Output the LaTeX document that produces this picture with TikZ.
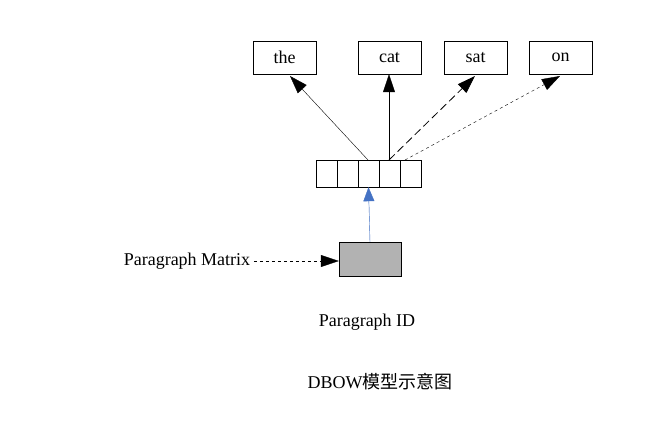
\documentclass[tikz,border=0pt]{standalone}
\usepackage{fontspec}
\setmainfont{Liberation Serif}
\newfontfamily\cjk{Noto Sans CJK SC}
\usetikzlibrary{arrows.meta}
\begin{document}
\begin{tikzpicture}[x=1pt,y=-1pt,
  word/.style={draw,minimum width=63pt,minimum height=33pt,inner sep=0pt,font=\fontsize{18}{20}\selectfont},
  cell/.style={draw,minimum width=21pt,minimum height=27pt,inner sep=0pt},
  big/.style={-{Triangle[length=18pt,width=12pt]}},
  lbl/.style={font=\fontsize{18}{20}\selectfont}]
\useasboundingbox (0,0) rectangle (659,443);
\node[word] (the) at (284.5,57.5) {the};
\node[word] (cat) at (389.5,57.5) {cat};
\node[word] (sat) at (475.5,57.5) {sat};
\node[word] (on) at (560.5,57.5) {on};
\foreach \i in {1,...,5}{\node[cell] (c\i) at (316+21*\i-10.5,173.5) {};}
\node[draw,fill=black!30,minimum width=62pt,minimum height=34pt,inner sep=0pt] (pid) at (370,259) {};
\node[lbl] (pm) at (187,261) {Paragraph Matrix};
\node[lbl] (pidl) at (367,322) {Paragraph ID};
\node[lbl] (title) at (380,382) {DBOW{\cjk 模型示意图}};
\coordinate (s1) at (368,160);
\coordinate (s2) at (389,160);
\coordinate (s3) at (405,160);
\coordinate (pmin) at (pid.west |- pm.east);
\draw[big,thin] (s1) -- (290,76);
\draw[big,thin] (s2) -- (s2 |- cat.south);
\draw[big,thick,dash pattern=on 8pt off 4pt] (s2) -- (475,76);
\draw[big,dashed] (s3) -- (560,76);
\draw[-{Triangle[length=14pt,width=11pt]},draw={rgb,255:red,68;green,114;blue,196},fill={rgb,255:red,68;green,114;blue,196}] (pid.north) -- (c3.south);
\draw[big,dashed] (pm.east) -- (pmin);
\end{tikzpicture}
\end{document}
